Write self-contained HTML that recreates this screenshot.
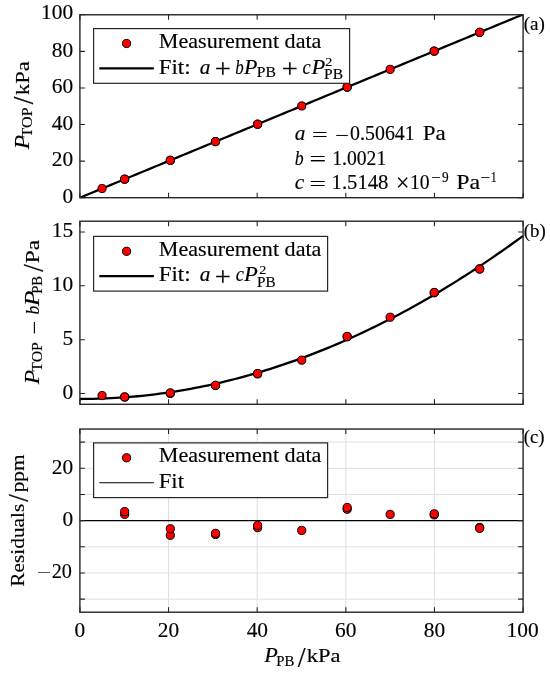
<!DOCTYPE html>
<html><head><meta charset="utf-8"><style>
html,body{margin:0;padding:0;background:#fff;}
svg{display:block;}
text{stroke:#000;stroke-width:0.15px;}
</style></head><body>
<svg width="550" height="675" viewBox="0 0 550 675" font-family="'Liberation Serif', serif">
<rect width="550" height="675" fill="#fff"/>
<path d="M168.54 429.05V612.2M257.18 429.05V612.2M345.82 429.05V612.2M434.46 429.05V612.2M79.9 599.12H523.1M79.9 572.95H523.1M79.9 546.79H523.1M79.9 494.46H523.1M79.9 468.3H523.1M79.9 442.13H523.1" stroke="#dfdfdf" stroke-width="1.0" fill="none"/>
<clipPath id="c1"><rect x="79.9" y="14.77" width="443.2" height="182.93"/></clipPath>
<polyline clip-path="url(#c1)" points="79.9 197.7 84.33 195.87 88.76 194.03 93.2 192.2 97.63 190.37 102.06 188.54 106.49 186.7 110.92 184.87 115.36 183.04 119.79 181.2 124.22 179.37 128.65 177.54 133.08 175.7 137.52 173.87 141.95 172.04 146.38 170.2 150.81 168.37 155.24 166.54 159.68 164.7 164.11 162.87 168.54 161.04 172.97 159.2 177.4 157.37 181.84 155.54 186.27 153.7 190.7 151.87 195.13 150.04 199.56 148.2 204 146.37 208.43 144.54 212.86 142.7 217.29 140.87 221.72 139.04 226.16 137.2 230.59 135.37 235.02 133.54 239.45 131.7 243.88 129.87 248.32 128.04 252.75 126.2 257.18 124.37 261.61 122.54 266.04 120.7 270.48 118.87 274.91 117.04 279.34 115.2 283.77 113.37 288.2 111.54 292.64 109.7 297.07 107.87 301.5 106.04 305.93 104.2 310.36 102.37 314.8 100.54 319.23 98.7 323.66 96.87 328.09 95.04 332.52 93.2 336.96 91.37 341.39 89.54 345.82 87.7 350.25 85.87 354.68 84.04 359.12 82.2 363.55 80.37 367.98 78.54 372.41 76.7 376.84 74.87 381.28 73.03 385.71 71.2 390.14 69.37 394.57 67.53 399 65.7 403.44 63.87 407.87 62.03 412.3 60.2 416.73 58.37 421.16 56.53 425.6 54.7 430.03 52.87 434.46 51.03 438.89 49.2 443.32 47.36 447.76 45.53 452.19 43.7 456.62 41.86 461.05 40.03 465.48 38.2 469.92 36.36 474.35 34.53 478.78 32.7 483.21 30.86 487.64 29.03 492.08 27.19 496.51 25.36 500.94 23.53 505.37 21.69 509.8 19.86 514.24 18.03 518.67 16.19 523.1 14.36" stroke="#000" stroke-width="2.3" fill="none" stroke-linejoin="round"/>
<polyline points="79.9 398.98 84.33 398.97 88.76 398.92 93.2 398.84 97.63 398.72 102.06 398.58 106.49 398.4 110.92 398.18 115.36 397.94 119.79 397.66 124.22 397.35 128.65 397.01 133.08 396.63 137.52 396.23 141.95 395.79 146.38 395.31 150.81 394.81 155.24 394.27 159.68 393.7 164.11 393.09 168.54 392.46 172.97 391.79 177.4 391.09 181.84 390.35 186.27 389.59 190.7 388.79 195.13 387.95 199.56 387.09 204 386.19 208.43 385.26 212.86 384.3 217.29 383.3 221.72 382.28 226.16 381.22 230.59 380.12 235.02 379 239.45 377.84 243.88 376.65 248.32 375.42 252.75 374.17 257.18 372.88 261.61 371.56 266.04 370.2 270.48 368.82 274.91 367.4 279.34 365.95 283.77 364.46 288.2 362.94 292.64 361.39 297.07 359.81 301.5 358.2 305.93 356.55 310.36 354.87 314.8 353.15 319.23 351.41 323.66 349.63 328.09 347.82 332.52 345.98 336.96 344.1 341.39 342.19 345.82 340.25 350.25 338.27 354.68 336.27 359.12 334.23 363.55 332.16 367.98 330.05 372.41 327.91 376.84 325.74 381.28 323.54 385.71 321.31 390.14 319.04 394.57 316.74 399 314.41 403.44 312.04 407.87 309.64 412.3 307.21 416.73 304.75 421.16 302.25 425.6 299.72 430.03 297.16 434.46 294.57 438.89 291.94 443.32 289.28 447.76 286.59 452.19 283.86 456.62 281.11 461.05 278.32 465.48 275.49 469.92 272.64 474.35 269.75 478.78 266.83 483.21 263.88 487.64 260.89 492.08 257.87 496.51 254.82 500.94 251.74 505.37 248.62 509.8 245.47 514.24 242.29 518.67 239.08 523.1 235.83" stroke="#000" stroke-width="2.3" fill="none" stroke-linejoin="round"/>
<path d="M79.9 520.62H523.1" stroke="#000" stroke-width="1.1"/>
<path d="M79.9 197.7v-5M79.9 14.77v5M168.54 197.7v-5M168.54 14.77v5M257.18 197.7v-5M257.18 14.77v5M345.82 197.7v-5M345.82 14.77v5M434.46 197.7v-5M434.46 14.77v5M523.1 197.7v-5M523.1 14.77v5M79.9 197.7h5M523.1 197.7h-5M79.9 161.11h5M523.1 161.11h-5M79.9 124.53h5M523.1 124.53h-5M79.9 87.94h5M523.1 87.94h-5M79.9 51.36h5M523.1 51.36h-5M79.9 14.77h5M523.1 14.77h-5" stroke="#262626" stroke-width="1.1" fill="none"/>
<path d="M79.9 404.3v-5M79.9 221.2v5M168.54 404.3v-5M168.54 221.2v5M257.18 404.3v-5M257.18 221.2v5M345.82 404.3v-5M345.82 221.2v5M434.46 404.3v-5M434.46 221.2v5M523.1 404.3v-5M523.1 221.2v5M79.9 393.53h5M523.1 393.53h-5M79.9 339.68h5M523.1 339.68h-5M79.9 285.82h5M523.1 285.82h-5M79.9 231.97h5M523.1 231.97h-5" stroke="#262626" stroke-width="1.1" fill="none"/>
<path d="M79.9 612.2v-5M79.9 429.05v5M168.54 612.2v-5M168.54 429.05v5M257.18 612.2v-5M257.18 429.05v5M345.82 612.2v-5M345.82 429.05v5M434.46 612.2v-5M434.46 429.05v5M523.1 612.2v-5M523.1 429.05v5M79.9 599.12h5M523.1 599.12h-5M79.9 572.95h5M523.1 572.95h-5M79.9 546.79h5M523.1 546.79h-5M79.9 520.62h5M523.1 520.62h-5M79.9 494.46h5M523.1 494.46h-5M79.9 468.3h5M523.1 468.3h-5M79.9 442.13h5M523.1 442.13h-5" stroke="#262626" stroke-width="1.1" fill="none"/>
<g fill="#ff0000" stroke="#000" stroke-width="1"><circle cx="102.06" cy="188.53" r="4.1"/><circle cx="124.66" cy="179.19" r="4.1"/><circle cx="124.66" cy="179.19" r="4.1"/><circle cx="170.31" cy="160.3" r="4.1"/><circle cx="170.31" cy="160.3" r="4.1"/><circle cx="215.52" cy="141.6" r="4.1"/><circle cx="215.52" cy="141.6" r="4.1"/><circle cx="257.62" cy="124.19" r="4.1"/><circle cx="257.62" cy="124.19" r="4.1"/><circle cx="301.72" cy="105.95" r="4.1"/><circle cx="347.15" cy="87.15" r="4.1"/><circle cx="347.15" cy="87.15" r="4.1"/><circle cx="390.14" cy="69.37" r="4.1"/><circle cx="434.24" cy="51.12" r="4.1"/><circle cx="434.24" cy="51.12" r="4.1"/><circle cx="479.67" cy="32.33" r="4.1"/><circle cx="479.67" cy="32.33" r="4.1"/></g>
<g fill="#ff0000" stroke="#000" stroke-width="1"><circle cx="102.06" cy="395.58" r="4.1"/><circle cx="124.66" cy="397.06" r="4.1"/><circle cx="124.66" cy="396.95" r="4.1"/><circle cx="170.31" cy="393.42" r="4.1"/><circle cx="170.31" cy="392.88" r="4.1"/><circle cx="215.52" cy="385.45" r="4.1"/><circle cx="215.52" cy="385.31" r="4.1"/><circle cx="257.62" cy="373.91" r="4.1"/><circle cx="257.62" cy="373.54" r="4.1"/><circle cx="301.72" cy="360.14" r="4.1"/><circle cx="347.15" cy="336.83" r="4.1"/><circle cx="347.15" cy="336.41" r="4.1"/><circle cx="390.14" cy="317.25" r="4.1"/><circle cx="434.24" cy="292.8" r="4.1"/><circle cx="434.24" cy="292.46" r="4.1"/><circle cx="479.67" cy="268.77" r="4.1"/><circle cx="479.67" cy="269.11" r="4.1"/></g>
<g fill="#ff0000" stroke="#000" stroke-width="1"><circle cx="124.66" cy="514.35" r="4.1"/><circle cx="124.66" cy="511.62" r="4.1"/><circle cx="170.31" cy="535.28" r="4.1"/><circle cx="170.31" cy="528.74" r="4.1"/><circle cx="215.52" cy="534.49" r="4.1"/><circle cx="215.52" cy="533.31" r="4.1"/><circle cx="257.62" cy="527.64" r="4.1"/><circle cx="257.62" cy="525.44" r="4.1"/><circle cx="301.72" cy="530.44" r="4.1"/><circle cx="347.15" cy="509.22" r="4.1"/><circle cx="347.15" cy="507.54" r="4.1"/><circle cx="390.14" cy="514.42" r="4.1"/><circle cx="434.24" cy="514.87" r="4.1"/><circle cx="434.24" cy="513.82" r="4.1"/><circle cx="479.67" cy="527.43" r="4.1"/><circle cx="479.67" cy="528.34" r="4.1"/></g>
<rect x="79.9" y="14.77" width="443.2" height="182.93" fill="none" stroke="#262626" stroke-width="1.4"/>
<rect x="79.9" y="221.2" width="443.2" height="183.1" fill="none" stroke="#262626" stroke-width="1.4"/>
<rect x="79.9" y="429.05" width="443.2" height="183.15" fill="none" stroke="#262626" stroke-width="1.4"/>
<rect x="93.6" y="28.6" width="256" height="54.7" fill="#fff" stroke="#262626" stroke-width="1.2"/>
<circle cx="126.6" cy="43.5" r="4.1" fill="#ff0000" stroke="#000" stroke-width="1"/>
<path d="M99.3 68.4H153.9" stroke="#000" stroke-width="2.3"/>
<text transform="translate(158.74 48) scale(1.0896 1)" font-size="20.3">Measurement data</text>
<text transform="translate(158.71 73.6) scale(1.1315 1)" font-size="20.3">Fit:</text>
<text transform="translate(199.76 73.6) scale(1.0479 1)" font-size="20.3" font-style="italic">a</text>
<text transform="translate(214.87 77.95) scale(1.4090 1.3560)" font-size="20.3">+</text>
<text transform="translate(235.27 73.6) scale(0.8315 1)" font-size="20.3" font-style="italic">b</text>
<text transform="translate(244.11 73.6) scale(1.0614 1)" font-size="20.6" font-style="italic">P</text>
<text transform="translate(256.73 77) scale(1.1353 1)" font-size="13.8">PB</text>
<text transform="translate(281.67 77.95) scale(1.4090 1.3560)" font-size="20.3">+</text>
<text transform="translate(302.55 73.6) scale(0.9057 1)" font-size="20.3" font-style="italic">c</text>
<text transform="translate(311.41 73.6) scale(1.0943 1)" font-size="20.6" font-style="italic">P</text>
<text transform="translate(325.16 66.2) scale(1.1133 1)" font-size="12.8">2</text>
<text transform="translate(324.03 79.2) scale(1.1290 1)" font-size="13.8">PB</text>
<rect x="93.6" y="236.4" width="234" height="54.7" fill="#fff" stroke="#262626" stroke-width="1.2"/>
<circle cx="126.6" cy="251.3" r="4.1" fill="#ff0000" stroke="#000" stroke-width="1"/>
<path d="M99.3 276.2H153.9" stroke="#000" stroke-width="2.3"/>
<text transform="translate(158.74 255.8) scale(1.0896 1)" font-size="20.3">Measurement data</text>
<text transform="translate(158.71 281.4) scale(1.1315 1)" font-size="20.3">Fit:</text>
<text transform="translate(199.76 281.4) scale(1.0479 1)" font-size="20.3" font-style="italic">a</text>
<text transform="translate(214.87 285.75) scale(1.4090 1.3560)" font-size="20.3">+</text>
<text transform="translate(235.75 281.4) scale(0.9057 1)" font-size="20.3" font-style="italic">c</text>
<text transform="translate(244.11 281.4) scale(1.0943 1)" font-size="20.6" font-style="italic">P</text>
<text transform="translate(259.36 274) scale(1.1133 1)" font-size="12.8">2</text>
<text transform="translate(257.04 287) scale(1.1036 1)" font-size="13.8">PB</text>
<rect x="93.6" y="442.9" width="234" height="54.7" fill="#fff" stroke="#262626" stroke-width="1.2"/>
<circle cx="126.6" cy="457.8" r="4.1" fill="#ff0000" stroke="#000" stroke-width="1"/>
<path d="M99.3 482.7H153.9" stroke="#000" stroke-width="1.1"/>
<text transform="translate(158.74 462.3) scale(1.0896 1)" font-size="20.3">Measurement data</text>
<text transform="translate(158.72 487.9) scale(1.1201 1)" font-size="20.3">Fit</text>
<text x="62.4" y="202.92" font-size="21.4">0</text>
<text x="51.7" y="166.33" font-size="21.4">20</text>
<text x="51.7" y="129.74" font-size="21.4">40</text>
<text x="51.7" y="93.16" font-size="21.4">60</text>
<text x="51.7" y="56.57" font-size="21.4">80</text>
<text x="41" y="19.49" font-size="21.4">100</text>
<text x="62.4" y="398.74" font-size="21.4">0</text>
<text x="62.46" y="344.89" font-size="21.4">5</text>
<text x="51.7" y="291.04" font-size="21.4">10</text>
<text x="51.76" y="237.19" font-size="21.4">15</text>
<text transform="translate(51.69 578.17) scale(0.9473 1)" font-size="21.4">20</text>
<text transform="translate(37.02 577.2) scale(1.1959 0.6542)" font-size="21.4">−</text>
<text x="62.4" y="525.84" font-size="21.4">0</text>
<text x="51.7" y="473.51" font-size="21.4">20</text>
<text x="74.55" y="637.2" font-size="21.4">0</text>
<text x="157.76" y="637.2" font-size="21.4">20</text>
<text x="246.67" y="637.2" font-size="21.4">40</text>
<text x="335.07" y="637.2" font-size="21.4">60</text>
<text x="423.76" y="637.2" font-size="21.4">80</text>
<text x="506.52" y="637.2" font-size="21.4">100</text>
<text transform="translate(294.76 140) scale(1.0129 1)" font-size="21" font-style="italic">a</text>
<text transform="translate(311.67 141) scale(1.3620 0.8952)" font-size="21">=</text>
<text transform="translate(334.95 141.55) scale(1.1879 0.9524)" font-size="21">−</text>
<text transform="translate(350.05 140) scale(0.9486 1)" font-size="21">0.50641</text>
<text transform="translate(422.81 140) scale(1.0970 1)" font-size="21">Pa</text>
<text transform="translate(294.83 165) scale(0.8478 1)" font-size="21" font-style="italic">b</text>
<text transform="translate(309.43 165.73) scale(1.4030 0.9714)" font-size="21">=</text>
<text transform="translate(332.28 165) scale(0.9350 1)" font-size="21">1.0021</text>
<text transform="translate(294.76 189) scale(1.0175 1)" font-size="21" font-style="italic">c</text>
<text transform="translate(309.43 190) scale(1.4030 0.8952)" font-size="21">=</text>
<text transform="translate(331.59 189) scale(0.9832 1)" font-size="21">1.5148</text>
<text transform="translate(396.1 191.04) scale(1.1287 1.1875)" font-size="21">×</text>
<text transform="translate(409.98 189) scale(0.9361 1)" font-size="21">10</text>
<text transform="translate(431.49 183.02) scale(1.1521 1.1429)" font-size="14">−</text>
<text transform="translate(441.97 182) scale(0.9524 1)" font-size="14">9</text>
<text transform="translate(456.18 189) scale(1.1419 1)" font-size="21">Pa</text>
<text transform="translate(480.55 183.02) scale(1.2135 1.1429)" font-size="14">−</text>
<text transform="translate(490.66 182) scale(0.8511 1)" font-size="14">1</text>
<text transform="translate(523.74 30) scale(1.0479 1)" font-size="18.2">(a)</text>
<text transform="translate(523.75 236.9) scale(1.0352 1)" font-size="18.2">(b)</text>
<text transform="translate(523.76 443.3) scale(1.0317 1)" font-size="18.2">(c)</text>
<text transform="translate(264.21 662.2) scale(1.0778 1)" font-size="20.6" font-style="italic">P</text>
<text transform="translate(276.26 665.8) scale(1.0719 1)" font-size="13.8">PB</text>
<text transform="translate(297.7 667.2) scale(1.4341 1.5306)" font-size="19.6">/</text>
<text transform="translate(306.75 662.2) scale(1.1458 1)" font-size="19.6">kPa</text>
<g transform="translate(29 0) rotate(-90)"><text transform="translate(-149.18 0) scale(1.1437 1)" font-size="20.6" font-style="italic">P</text><text transform="translate(-137.38 2.9) scale(1.1594 1)" font-size="13.8">TOP</text><text transform="translate(-104.3 4.21) scale(1.4157 1.4849)" font-size="19.6">/</text><text transform="translate(-94.95 0) scale(1.1493 1)" font-size="19.6">kPa</text></g>
<g transform="translate(38.7 0) rotate(-90)"><text transform="translate(-384.18 0) scale(1.1437 1)" font-size="20.6" font-style="italic">P</text><text transform="translate(-371.68 3.2) scale(1.1434 1)" font-size="13.8">TOP</text><text transform="translate(-334.6 2.05) scale(1.2289 1.0204)" font-size="19.6">−</text><text transform="translate(-314.46 0) scale(0.8965 1)" font-size="19.6" font-style="italic">b</text><text transform="translate(-306.17 0) scale(1.2506 1)" font-size="20.6" font-style="italic">P</text><text transform="translate(-293.84 3.2) scale(1.0656 1)" font-size="13.8">PB</text><text transform="translate(-271.8 4.01) scale(1.3973 1.4621)" font-size="19.6">/</text><text transform="translate(-263.2 0) scale(1.1914 1)" font-size="19.6">Pa</text></g>
<g transform="translate(23.6 0) rotate(-90)"><text transform="translate(-586.74 0) scale(1.0905 1)" font-size="19.6">Residuals</text><text transform="translate(-501.8 4.11) scale(1.3973 1.4621)" font-size="19.6">/</text><text transform="translate(-492.32 0) scale(1.0861 1)" font-size="19.6">ppm</text></g>
</svg>
</body></html>
